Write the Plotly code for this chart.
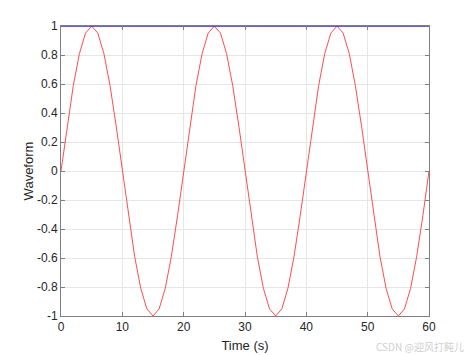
import plotly.graph_objects as go

# time samples (s)
t = list(range(0, 61))
# waveform values (sine, period 20 s, 1 s sampling)
one_period = [0.0, 0.309, 0.588, 0.809, 0.951, 1.0, 0.951, 0.809, 0.588, 0.309,
              0.0, -0.309, -0.588, -0.809, -0.951, -1.0, -0.951, -0.809, -0.588, -0.309]
wave = one_period * 3 + [0.0]
# reference level
ref_x = [0, 60]
ref_y = [1, 1]

x_ticks = [0, 10, 20, 30, 40, 50, 60]
y_ticks = [-1, -0.8, -0.6, -0.4, -0.2, 0, 0.2, 0.4, 0.6, 0.8, 1]
y_tick_text = ["-1", "-0.8", "-0.6", "-0.4", "-0.2", "0", "0.2", "0.4", "0.6", "0.8", "1"]

fig = go.Figure()
fig.add_trace(go.Scatter(x=t, y=wave, mode="lines",
                         line=dict(color="#ff4d4d", width=1), showlegend=False))
fig.add_trace(go.Scatter(x=ref_x, y=ref_y, mode="lines",
                         line=dict(color="#2b2bd6", width=1.6), showlegend=False, cliponaxis=False))

axis_common = dict(showline=True, linecolor="#808080", linewidth=1, mirror="allticks",
                   ticks="inside", ticklen=4, tickcolor="#808080", automargin=False,
                   showgrid=True, gridcolor="#e6e6e6", gridwidth=1, zeroline=False,
                   tickfont=dict(family="Liberation Sans, Arial", size=12, color="#262626"))

fig.update_layout(
    width=474, height=355,
    margin=dict(l=61, r=45, t=26, b=39),
    paper_bgcolor="white", plot_bgcolor="white",
    xaxis=dict(range=[0, 60], tickvals=x_ticks, ticktext=[str(v) for v in x_ticks],
               title=dict(text="Time (s)", standoff=7,
                          font=dict(family="Liberation Sans, Arial", size=13, color="#262626")),
               **axis_common),
    yaxis=dict(range=[-1, 1], tickvals=y_ticks, ticktext=y_tick_text,
               title=dict(text="Waveform", standoff=0,
                          font=dict(family="Liberation Sans, Arial", size=13, color="#262626")),
               **axis_common),
    annotations=[dict(text="CSDN @迎风打盹儿", xref="paper", yref="paper",
                      x=1.1, y=-0.105, xanchor="right", yanchor="middle", showarrow=False,
                      font=dict(family="Noto Sans CJK SC", size=10, color="#d0d0d0"))],
)

fig.write_html("out.html")
